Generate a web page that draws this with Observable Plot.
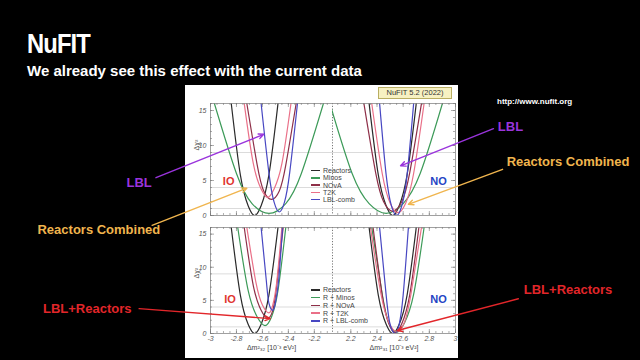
<!DOCTYPE html>
<html><head><meta charset="utf-8">
<script src="https://cdn.jsdelivr.net/npm/d3@7"></script>
<script src="https://cdn.jsdelivr.net/npm/@observablehq/plot@0.6"></script>
<style>
html,body{margin:0;padding:0;background:#000;}
body{width:640px;height:360px;position:relative;overflow:hidden;font-family:"Liberation Sans",Arial,sans-serif;}
.abs{position:absolute;white-space:nowrap;line-height:1;}
.leg{position:absolute;font-size:7px;color:#444;}
.leg .row{display:flex;align-items:center;white-space:nowrap;}
.leg .sw{display:inline-block;width:9px;height:1.6px;margin-right:3px;}
</style></head><body>
<div class="abs" style="left:27px;top:31px;font-size:27px;font-weight:bold;color:#fff;letter-spacing:-1px;transform:scaleX(0.88);transform-origin:left top;">NuFIT</div>
<div class="abs" style="left:27px;top:63px;font-size:15px;font-weight:bold;color:#fff;">We already see this effect with the current data</div>
<div class="abs" style="left:497px;top:98px;font-size:8px;font-weight:bold;color:#fff;">http://www.nufit.org</div>
<div class="abs" style="left:185px;top:85px;width:273px;height:273px;background:#fff;"></div>
<div class="abs" style="left:378px;top:87px;width:72px;height:10px;background:#f7f1c2;border:1px solid #b9ae62;font-size:7.5px;color:#333;text-align:center;line-height:10px;">NuFIT 5.2 (2022)</div>
<script>
// ---------- data ----------
const seriesTop = ["Reactors", "Minos", "NOvA", "T2K", "LBL-comb"];
const seriesBottom = ["Reactors", "R + Minos", "R + NOvA", "R + T2K", "R + LBL-comb"];
const seriesColors = ["#2a2a2a", "#3c9a58", "#8e2f48", "#ea7088", "#4747c2"];
const yTicks = [0, 5, 10, 15];
const xTicksIO = [-3, -2.8, -2.6, -2.4, -2.2];
const xTicksNO = [2.2, 2.4, 2.6, 2.8, 3];
const sigmaLevels = [1, 4, 9];
const xDomainIO = [-3, -2.06];
const xDomainNO = [2.06, 3];
const yDomain = [0, 16];

// [series, Δm², Δχ²]
const topIO = [
  ["Reactors",-2.84,16],["Reactors",-2.77,5.8],["Reactors",-2.71,1.4],["Reactors",-2.66,0],["Reactors",-2.61,1.4],["Reactors",-2.55,5.8],["Reactors",-2.48,16],
  ["Minos",-2.97,16],["Minos",-2.80,6.0],["Minos",-2.68,1.7],["Minos",-2.55,0.3],["Minos",-2.42,1.7],["Minos",-2.30,6.0],["Minos",-2.13,16],
  ["NOvA",-2.72,16],["NOvA",-2.64,7.2],["NOvA",-2.59,3.5],["NOvA",-2.53,2.3],["NOvA",-2.47,3.5],["NOvA",-2.42,7.2],["NOvA",-2.34,16],
  ["T2K",-2.74,16],["T2K",-2.67,7.4],["T2K",-2.61,3.8],["T2K",-2.56,2.6],["T2K",-2.51,3.8],["T2K",-2.45,7.4],["T2K",-2.38,16],
  ["LBL-comb",-2.61,16],["LBL-comb",-2.55,6.1],["LBL-comb",-2.51,1.9],["LBL-comb",-2.47,0.5],["LBL-comb",-2.43,1.9],["LBL-comb",-2.39,6.1],["LBL-comb",-2.33,16]
];
const topNO = [
  ["Reactors",2.34,16],["Reactors",2.41,5.8],["Reactors",2.47,1.4],["Reactors",2.52,0],["Reactors",2.57,1.4],["Reactors",2.63,5.8],["Reactors",2.70,16],
  ["Minos",2.04,16],["Minos",2.21,6.0],["Minos",2.34,1.7],["Minos",2.47,0.3],["Minos",2.60,1.7],["Minos",2.73,6.0],["Minos",2.90,16],
  ["NOvA",2.30,16],["NOvA",2.39,6.1],["NOvA",2.45,2.0],["NOvA",2.52,0.6],["NOvA",2.59,2.0],["NOvA",2.65,6.1],["NOvA",2.74,16],
  ["T2K",2.36,16],["T2K",2.44,6.0],["T2K",2.50,1.8],["T2K",2.56,0.4],["T2K",2.62,1.8],["T2K",2.68,6.0],["T2K",2.76,16],
  ["LBL-comb",2.42,16],["LBL-comb",2.47,5.8],["LBL-comb",2.51,1.4],["LBL-comb",2.55,0],["LBL-comb",2.59,1.4],["LBL-comb",2.63,5.8],["LBL-comb",2.68,16]
];
const bottomIO = [
  ["Reactors",-2.84,16],["Reactors",-2.77,5.8],["Reactors",-2.71,1.4],["Reactors",-2.66,0],["Reactors",-2.61,1.4],["Reactors",-2.55,5.8],["Reactors",-2.48,16],
  ["R + Minos",-2.79,16],["R + Minos",-2.71,6.5],["R + Minos",-2.64,2.5],["R + Minos",-2.58,1.2],["R + Minos",-2.53,2.5],["R + Minos",-2.48,6.5],["R + Minos",-2.42,16],
  ["R + NOvA",-2.74,16],["R + NOvA",-2.67,7.2],["R + NOvA",-2.61,3.5],["R + NOvA",-2.56,2.3],["R + NOvA",-2.52,3.5],["R + NOvA",-2.49,7.2],["R + NOvA",-2.44,16],
  ["R + T2K",-2.72,16],["R + T2K",-2.65,7.7],["R + T2K",-2.60,4.3],["R + T2K",-2.55,3.1],["R + T2K",-2.52,4.3],["R + T2K",-2.49,7.7],["R + T2K",-2.45,16],
  ["R + LBL-comb",-2.61,16],["R + LBL-comb",-2.57,8.0],["R + LBL-comb",-2.55,4.6],["R + LBL-comb",-2.52,3.5],["R + LBL-comb",-2.50,4.6],["R + LBL-comb",-2.475,8.0],["R + LBL-comb",-2.445,16]
];
const bottomNO = [
  ["Reactors",2.34,16],["Reactors",2.41,5.8],["Reactors",2.47,1.4],["Reactors",2.52,0],["Reactors",2.57,1.4],["Reactors",2.63,5.8],["Reactors",2.70,16],
  ["R + Minos",2.36,16],["R + Minos",2.44,5.9],["R + Minos",2.49,1.6],["R + Minos",2.55,0.2],["R + Minos",2.61,1.6],["R + Minos",2.68,5.9],["R + Minos",2.76,16],
  ["R + NOvA",2.37,16],["R + NOvA",2.44,5.8],["R + NOvA",2.49,1.5],["R + NOvA",2.54,0.1],["R + NOvA",2.59,1.5],["R + NOvA",2.65,5.8],["R + NOvA",2.72,16],
  ["R + T2K",2.35,16],["R + T2K",2.43,6.0],["R + T2K",2.49,1.7],["R + T2K",2.55,0.3],["R + T2K",2.61,1.7],["R + T2K",2.66,6.0],["R + T2K",2.74,16],
  ["R + LBL-comb",2.42,16],["R + LBL-comb",2.47,5.8],["R + LBL-comb",2.50,1.4],["R + LBL-comb",2.54,0],["R + LBL-comb",2.57,1.4],["R + LBL-comb",2.60,5.8],["R + LBL-comb",2.64,16]
];

// annotation anchors, in each panel's data coordinates
const purple = "#9a34dc", orange = "#f0b54e", red = "#e2262a";
const notesTL = [
  {x1:-3.42, y1:5.4, x2:-2.59, y2:11.6, tx:-3.55, ty:4.7, label:"LBL", color:purple},
  {x1:-3.45, y1:-1.4, x2:-2.72, y2:3.9, tx:-3.86, ty:-2.1, label:"Reactors Combined", color:orange}
];
const notesTR = [
  {x1:3.29, y1:12.4, x2:2.58, y2:7.1, tx:3.42, ty:12.6, label:"LBL", color:purple},
  {x1:3.36, y1:6.6, x2:2.64, y2:1.6, tx:3.86, ty:7.6, label:"Reactors Combined", color:orange}
];
const notesBL = [
  {x1:-3.55, y1:3.75, x2:-2.54, y2:2.25, tx:-3.95, ty:3.75, label:"LBL+Reactors", color:red}
];
const notesBR = [
  {x1:3.48, y1:5.25, x2:2.555, y2:0.45, tx:3.86, ty:6.6, label:"LBL+Reactors", color:red}
];

// ---------- drawing ----------
const FONT = "'Liberation Sans', Arial, sans-serif";
function panel(o) {
  const mL = 40, mR = 12, mT = 6, mB = 24;
  const [xa, xb] = o.xDomain;
  const left = o.side === "left";
  const tk = {stroke: "#777", strokeWidth: 0.6};
  const xMinor = d3.ticks(xa, xb, 20);
  const yMinor = d3.range(yDomain[0], yDomain[1] + 1);
  const marks = [
    Plot.ruleY(sigmaLevels, {stroke: "#d2d2d2", strokeWidth: 0.8}),
    Plot.line(o.rows, {x: d => d[1], y: d => d[2], z: d => d[0], stroke: d => d[0],
      curve: "natural", strokeWidth: 1.2, clip: true}),
    Plot.ruleY(yDomain, {stroke: "#888", strokeWidth: 0.8}),
    Plot.ruleX([left ? xa : xb], {stroke: "#888", strokeWidth: 0.8}),
    Plot.ruleX(xMinor, {insetTop: o.fh - 2, ...tk}),
    Plot.ruleX(xMinor, {insetBottom: o.fh - 2, ...tk}),
    Plot.ruleX(o.xTicks, {insetTop: o.fh - 4, ...tk}),
    Plot.ruleX(o.xTicks, {insetBottom: o.fh - 4, ...tk}),
    Plot.ruleY(yMinor, left ? {insetRight: o.fw - 2, ...tk} : {insetLeft: o.fw - 2, ...tk}),
    Plot.ruleY(yTicks, left ? {insetRight: o.fw - 4, ...tk} : {insetLeft: o.fw - 4, ...tk})
  ];
  if (left) {
    marks.push(Plot.ruleX([xb], {stroke: "#555", strokeWidth: 0.8, strokeDasharray: "1.2,1.6"}));
    marks.push(Plot.text(yTicks, {y: d => d, text: d => String(d), frameAnchor: "left", dx: -4,
      textAnchor: "end", fontSize: 7, fontStyle: "italic", fill: "#555"}));
    marks.push(Plot.text([{y: o.yTitleAt, t: "Δχ²"}], {y: "y", text: "t", frameAnchor: "left",
      dx: -14, rotate: -90, fontSize: 7, fill: "#555"}));
  }
  if (o.xTitle) {
    marks.push(Plot.text(o.xTicks, {x: d => d, text: d => String(d), frameAnchor: "bottom", dy: 7,
      fontSize: 7, fontStyle: "italic", fill: "#555"}));
    marks.push(Plot.text([o.xTitle], {text: d => d, frameAnchor: "bottom", dy: 16, fontSize: 7, fill: "#444"}));
  }
  marks.push(Plot.text([o.tag], {x: "x", y: "y", text: "t", fill: o.tag.color, fontSize: 11, fontWeight: "bold"}));
  for (const n of o.notes) {
    marks.push(Plot.arrow([n], {x1: "x1", y1: "y1", x2: "x2", y2: "y2", stroke: n.color,
      strokeWidth: 1.4, headLength: 6, headAngle: 50}));
    marks.push(Plot.text([n], {x: "tx", y: "ty", text: "label", fill: n.color, fontSize: 13, fontWeight: "bold"}));
  }
  const svg = Plot.plot({
    width: o.fw + mL + mR, height: o.fh + mT + mB,
    marginLeft: mL, marginRight: mR, marginTop: mT, marginBottom: mB,
    x: {domain: o.xDomain, axis: null},
    y: {domain: yDomain, axis: null},
    color: {domain: o.names, range: seriesColors},
    style: {fontFamily: FONT},
    marks
  });
  Object.assign(svg.style, {position: "absolute", left: (o.x0 - mL) + "px", top: (o.y0 - mT) + "px",
    overflow: "visible", background: "transparent", maxWidth: "none"});
  document.body.appendChild(svg);
}

panel({rows: topIO, names: seriesTop, xDomain: xDomainIO, x0: 210, y0: 103, fw: 122, fh: 112, side: "left",
  xTicks: xTicksIO, tag: {x: -2.86, y: 4.86, t: "IO", color: "#e0342f"}, yTitleAt: 9.3, notes: notesTL});
panel({rows: topNO, names: seriesTop, xDomain: xDomainNO, x0: 332, y0: 103, fw: 123, fh: 112, side: "right",
  xTicks: xTicksNO, tag: {x: 2.87, y: 4.86, t: "NO", color: "#2444c4"}, notes: notesTR});
panel({rows: bottomIO, names: seriesBottom, xDomain: xDomainIO, x0: 210, y0: 227, fw: 122, fh: 106, side: "left",
  xTicks: xTicksIO, xTitle: "Δm²₃₂ [10⁻³ eV²]", tag: {x: -2.85, y: 5.1, t: "IO", color: "#e0342f"}, yTitleAt: 8.3, notes: notesBL});
panel({rows: bottomNO, names: seriesBottom, xDomain: xDomainNO, x0: 332, y0: 227, fw: 123, fh: 106, side: "right",
  xTicks: xTicksNO, xTitle: "Δm²₃₁ [10⁻³ eV²]", tag: {x: 2.87, y: 5.2, t: "NO", color: "#2444c4"}, notes: notesBR});

function legend(names, left, top, rowH) {
  const div = document.createElement("div");
  div.className = "leg";
  div.style.left = left + "px";
  div.style.top = top + "px";
  names.forEach((n, i) => {
    const row = document.createElement("div");
    row.className = "row";
    row.style.height = rowH + "px";
    const sw = document.createElement("span");
    sw.className = "sw";
    sw.style.background = seriesColors[i];
    row.appendChild(sw);
    row.appendChild(document.createTextNode(n));
    div.appendChild(row);
  });
  document.body.appendChild(div);
}
legend(seriesTop, 311, 167, 7.25);
legend(seriesBottom, 311, 286, 7.75);
</script>
</body></html>
